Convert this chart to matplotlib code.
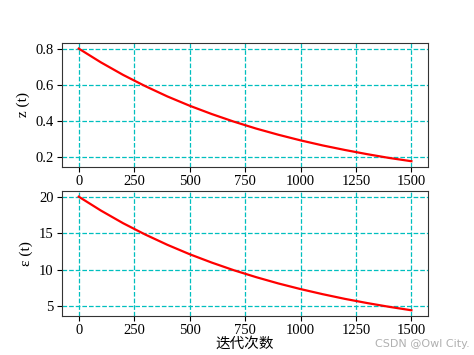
import matplotlib
matplotlib.use('Agg')
import matplotlib.pyplot as plt
import numpy as np

plt.rcParams['font.family'] = ['Liberation Serif', 'Noto Sans CJK SC', 'DejaVu Sans']
plt.rcParams['axes.unicode_minus'] = False

# values, every 100 iterations
iters = [0, 100, 200, 300, 400, 500, 600, 700, 800, 900, 1000, 1100, 1200, 1300, 1400, 1500]
z_t = [0.800, 0.724, 0.655, 0.593, 0.536, 0.485, 0.439, 0.397,
       0.359, 0.325, 0.294, 0.266, 0.241, 0.218, 0.197, 0.179]
eps_t = [20.0, 18.10, 16.37, 14.82, 13.41, 12.13, 10.98, 9.93,
         8.99, 8.13, 7.36, 6.66, 6.02, 5.45, 4.93, 4.46]

fig = plt.figure(figsize=(4.74, 3.55), dpi=100)
ax1 = fig.add_axes([0.131, 0.530, 0.772, 0.349])
ax2 = fig.add_axes([0.131, 0.110, 0.772, 0.352])

ax1.plot(iters, z_t, 'r-', linewidth=1.6)
ax1.set_ylabel('z (t)', fontsize=11)
ax1.set_yticks([0.2, 0.4, 0.6, 0.8])
ax1.grid(True, color='c', linestyle='--', linewidth=0.9)

ax2.plot(iters, eps_t, 'r-', linewidth=1.6)
ax2.set_ylabel('ε (t)', fontsize=11)
ax2.set_yticks([5, 10, 15, 20])
ax2.set_xlabel('迭代次数', fontsize=10.5, family=['Noto Sans CJK SC'], labelpad=0)
ax2.grid(True, color='c', linestyle='--', linewidth=0.9)

for ax in (ax1, ax2):
    ax.set_xticks([0, 250, 500, 750, 1000, 1250, 1500])
    ax.tick_params(labelsize=10.5, pad=2.5)
    for s in ax.spines.values():
        s.set_color('#333333')

fig.text(0.99, 0.032, 'CSDN @Owl City.', ha='right', va='center',
         fontsize=8, color='#b0b0b0', family=['DejaVu Sans'])

fig.savefig('out.png', dpi=100)
